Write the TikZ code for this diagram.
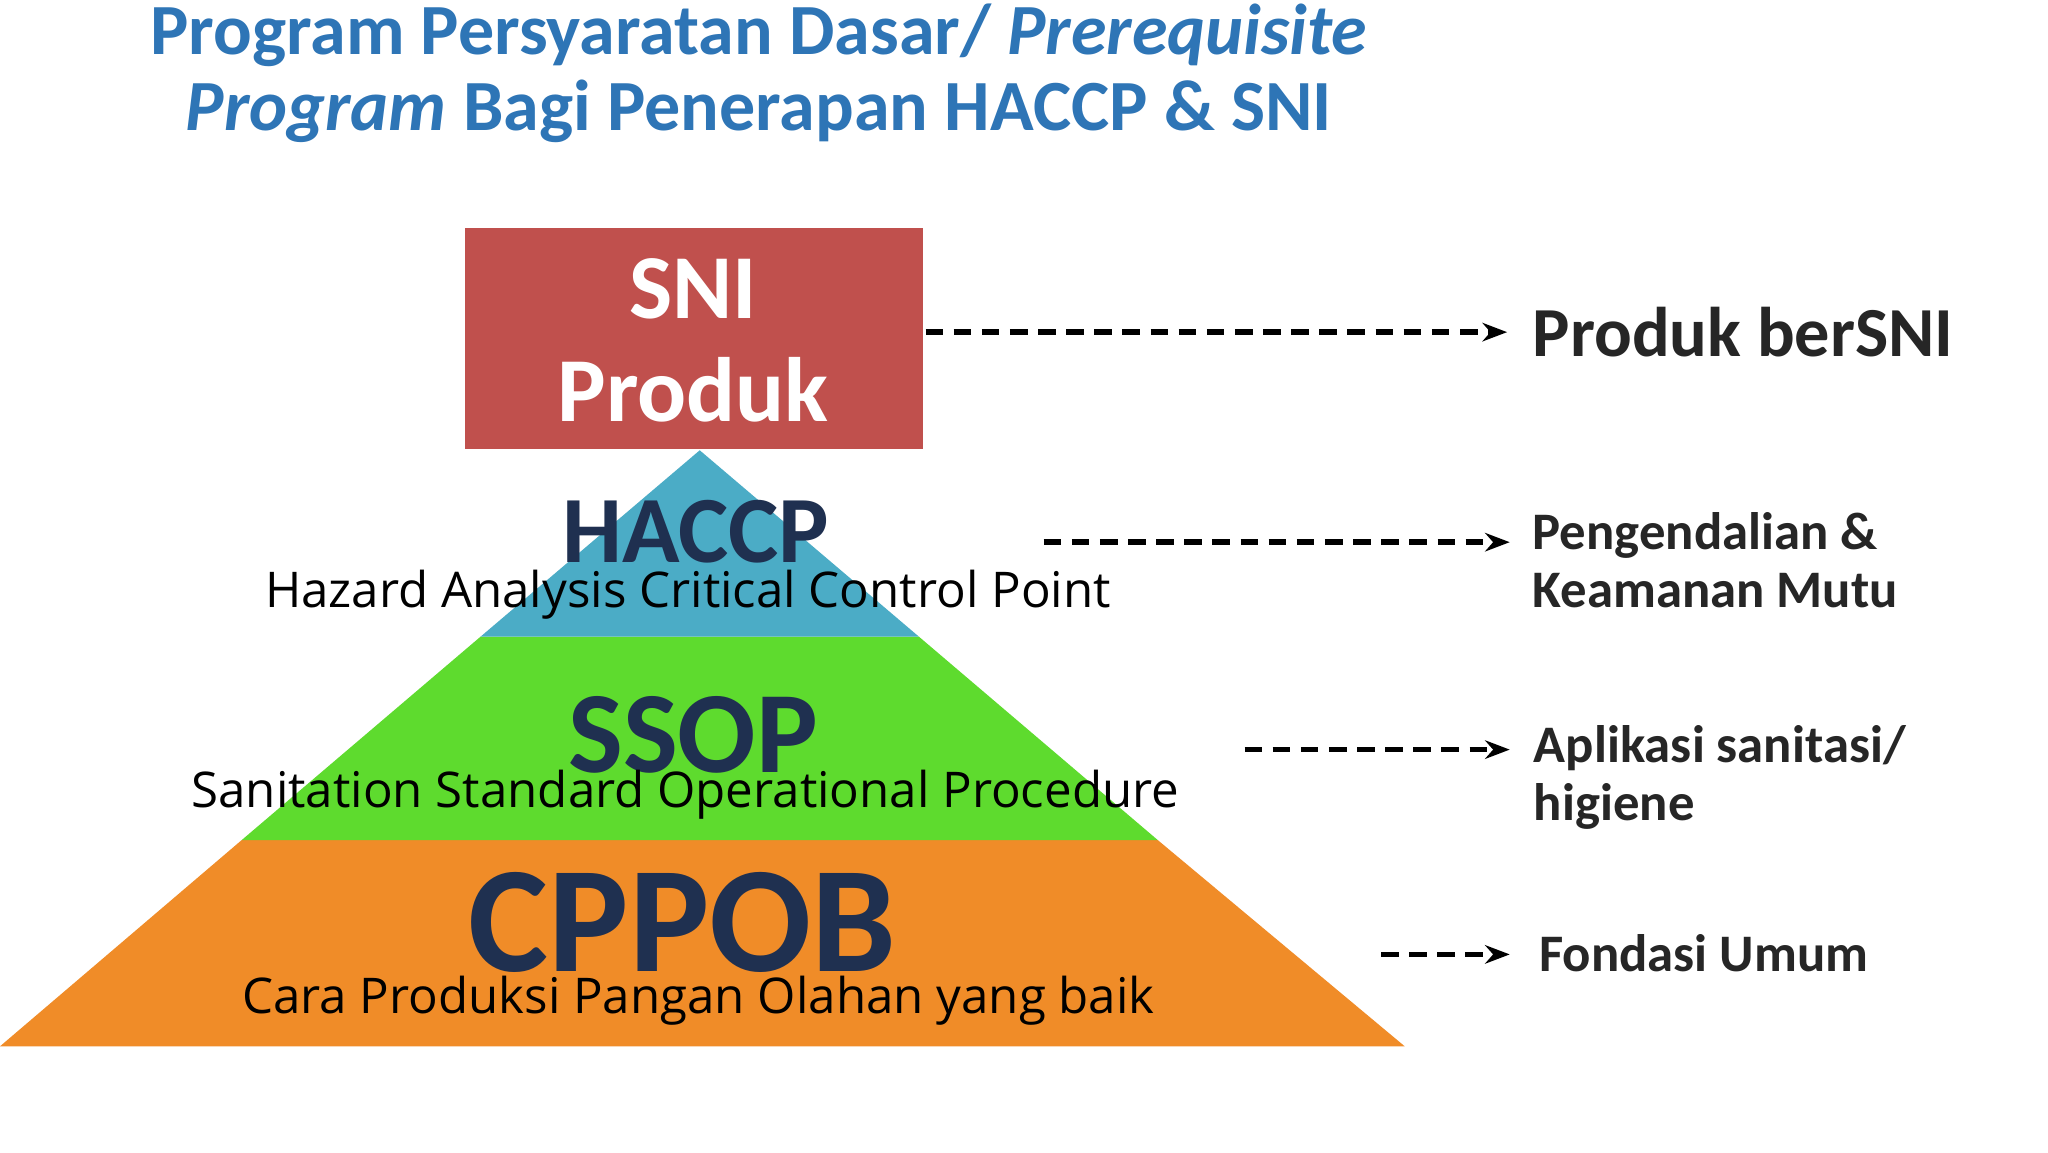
\documentclass[tikz,border=0pt]{standalone}
\usepackage{fontspec}
\setmainfont{Carlito}
\newfontfamily\osans{Open Sans}
\usetikzlibrary{arrows.meta}
\definecolor{titleblue}{HTML}{2E75B6}
\definecolor{snired}{HTML}{C0504D}
\definecolor{hblue}{HTML}{4BACC6}
\definecolor{sgreen}{HTML}{5EDB2E}
\definecolor{corange}{HTML}{F08C28}
\definecolor{navy}{HTML}{1F3050}
\tikzset{
  layerlbl/.style={text=navy,font=\bfseries},
  desc/.style={font=\osans\fontsize{14}{16}\selectfont,text=black},
  rlbl/.style={anchor=west,font=\bfseries\fontsize{15}{16.5}\selectfont,align=left,text=black!85},
  darr/.style={dashed,line width=1.6pt,dash pattern=on 5pt off 3pt,-{Stealth[length=7pt]}}
}
\begin{document}
\begin{tikzpicture}[x=0.013128cm,y=-0.013128cm]
\useasboundingbox (0,0) rectangle (1560,878);
\fill[white] (0,0) rectangle (1560,878);
\node (t1) at (578,27) {\fontsize{20.5}{24}\selectfont\bfseries\color{titleblue}Program Persyaratan Dasar/ \textit{Prerequisite}};
\node (t2) at (578,85) {\fontsize{20.5}{24}\selectfont\bfseries\color{titleblue}\textit{Program} Bagi Penerapan HACCP \& SNI};
% pyramid
\fill[corange] (184,640) -- (882,640) -- (1070,797) -- (0,797) -- cycle;
\fill[sgreen] (366,485) -- (700,485) -- (882,640) -- (184,640) -- cycle;
\fill[hblue] (533,343) -- (700,485) -- (366,485) -- cycle;
\fill[snired] (354,174) rectangle (703,342);
\node[text=white,font=\bfseries\fontsize{26}{30}\selectfont] (sni) at (528,220) {SNI};
\node[text=white,font=\bfseries\fontsize{26}{30}\selectfont] (prod) at (528,297) {Produk};
\coordinate (snie) at (705,253);
\node[layerlbl,font=\bfseries\fontsize{27}{30}\selectfont] (haccp) at (530,405) {HACCP};
\node[layerlbl,font=\bfseries\fontsize{33}{36}\selectfont] (ssop) at (528,560) {SSOP};
\node[layerlbl,font=\bfseries\fontsize{43}{48}\selectfont] (cppob) at (520,703) {CPPOB};
\node[desc] (d1) at (524,453) {Hazard Analysis Critical Control Point};
\node[desc] (d2) at (522,605) {Sanitation Standard Operational Procedure};
\node[desc] (d3) at (532,762) {Cara Produksi Pangan Olahan yang baik};
\coordinate (h1) at (795,413);
\coordinate (s1) at (948,571);
\coordinate (c1) at (1052,727);
\node[rlbl,font=\bfseries\fontsize{20}{24}\selectfont] (r1) at (1158,253) {Produk berSNI};
\node[rlbl] (r2) at (1158,427) {Pengendalian \&\\Keamanan Mutu};
\node[rlbl] (r3) at (1159,592) {Aplikasi sanitasi/\\higiene};
\node[rlbl] (r4) at (1163,726) {Fondasi Umum};
\draw[darr] (snie) -- (1148,253);
\draw[darr] (h1) -- (1150,413);
\draw[darr] (s1) -- (1150,571);
\draw[darr] (c1) -- (1150,727);
\end{tikzpicture}
\end{document}
